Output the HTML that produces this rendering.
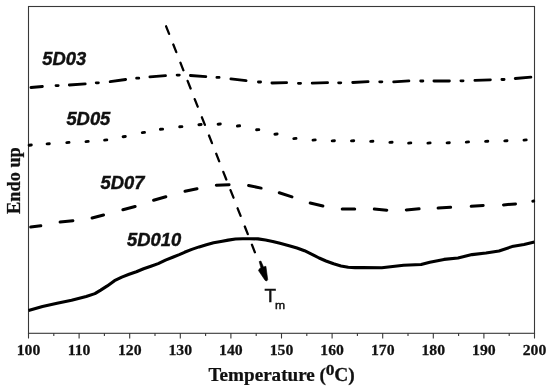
<!DOCTYPE html>
<html><head><meta charset="utf-8"><title>DSC curves</title>
<style>html,body{margin:0;padding:0;background:#fff}svg{display:block}</style></head>
<body>
<svg width="550" height="391" viewBox="0 0 550 391">
<rect width="550" height="391" fill="#fff"/>
<rect x="28.5" y="6.5" width="506" height="326.8" fill="none" stroke="#383838" stroke-width="1.1"/>
<path d="M28.5 333v5.5 M53.8 333v3 M79.1 333v5.5 M104.4 333v3 M129.7 333v5.5 M155.0 333v3 M180.3 333v5.5 M205.6 333v3 M230.9 333v5.5 M256.2 333v3 M281.5 333v5.5 M306.8 333v3 M332.1 333v5.5 M357.4 333v3 M382.7 333v5.5 M408.0 333v3 M433.3 333v5.5 M458.6 333v3 M483.9 333v5.5 M509.2 333v3 M534.5 333v5.5" stroke="#383838" stroke-width="1.1" fill="none"/>
<g font-family="'Liberation Serif',serif" font-weight="bold" font-size="15" text-anchor="middle" fill="#111" stroke="#111" stroke-width="0.25">
<text transform="translate(28.5,355) scale(1.05,1)">100</text>
<text transform="translate(79.1,355) scale(1.05,1)">110</text>
<text transform="translate(129.7,355) scale(1.05,1)">120</text>
<text transform="translate(180.3,355) scale(1.05,1)">130</text>
<text transform="translate(230.9,355) scale(1.05,1)">140</text>
<text transform="translate(281.5,355) scale(1.05,1)">150</text>
<text transform="translate(332.1,355) scale(1.05,1)">160</text>
<text transform="translate(382.7,355) scale(1.05,1)">170</text>
<text transform="translate(433.3,355) scale(1.05,1)">180</text>
<text transform="translate(483.9,355) scale(1.05,1)">190</text>
<text transform="translate(534.5,355) scale(1.05,1)">200</text>
</g>
<g font-family="'Liberation Serif',serif" font-weight="bold" font-size="18.5" fill="#111" stroke="#111" stroke-width="0.25">
<text transform="translate(326,381.2) scale(1.035,1)" text-anchor="end">Temperature (</text>
<text transform="translate(330.1,375) scale(1.25,1)" text-anchor="middle" font-size="14">0</text>
<text transform="translate(334.3,381.2) scale(1.05,1)">C)</text>
</g>
<text transform="translate(20.3,180.6) rotate(-90) scale(1.02,1)" font-family="'Liberation Serif',serif" font-weight="bold" font-size="18" text-anchor="middle" fill="#111" stroke="#111" stroke-width="0.25">Endo up</text>
<polyline points="28.5,310.5 42.5,306.4 57.1,303.2 71.6,300.3 86.2,296.5 94.9,293.6 100.7,290.1 107.3,285.9 114.5,280.7 121.8,277.1 129.1,274.2 136.4,271.7 143.6,268.8 150.9,266.2 158.2,263.6 165.5,260.1 172.7,257.2 179.3,254.6 184.5,252.3 191.8,249.4 199.1,246.9 206.4,244.7 213.6,242.8 220.9,241.4 228.2,240.1 235.5,239 242.7,238.7 250,238.7 258,238.9 265.5,240 272.7,241.4 280,243.3 290,245.9 297,248 304.5,250.7 312,254.3 319.1,258 326,261 333.6,263.8 341,265.9 348.2,267.3 355,267.6 362.7,267.6 381.8,267.7 394.9,266.3 403.6,265.3 421.1,264.5 429.8,262.3 444,259.4 458,258 472,254.6 486,253 499,251 512,246.6 524,244.4 534.4,242" fill="none" stroke="#000" stroke-width="3.1" stroke-linejoin="round"/>
<path d="M30.7 227.0L40.8 225.8 M60.1 222.1L72.9 220.7 M92.1 218.0L103.5 215.0 M122.9 209.8L135.1 206.5 M153.6 200.3L165.8 196.7 M185.0 191.2L197.0 188.8 M216.3 185.3L229.1 184.7 M248.6 185.5L261.1 188.1 M279.3 192.8L292.0 196.9 M310.2 203.0L322.9 206.0 M342.2 209.0L354.7 209.0 M374.3 209.1L386.8 210.2 M406.3 209.9L419.1 208.8 M438.1 208.1L450.6 207.3 M471.2 206.3L483.2 205.5 M503.5 204.9L515.5 203.9 M533.7 201.1L532.8 201.2" stroke="#000" stroke-width="3.0" stroke-linecap="round" fill="none"/>
<path d="M29.1 145.2L31.3 145.0 M47.1 143.9L49.3 143.7 M66.8 142.6L69.0 142.4 M86.0 141.6L88.2 141.4 M104.6 140.1L106.8 139.9 M123.1 136.7L125.3 136.5 M142.3 132.6L144.5 132.4 M160.4 129.3L162.6 129.1 M179.7 126.8L181.9 126.6 M198.9 124.7L201.1 124.5 M218.1 124.2L220.3 124.0 M237.4 126.0L239.6 125.8 M256.6 129.8L258.8 129.6 M274.9 134.2L277.1 134.0 M293.8 138.6L296.0 138.4 M313.0 140.1L315.2 139.9 M332.2 140.9L334.4 140.7 M351.5 140.9L353.7 140.7 M370.7 141.4L372.9 141.2 M389.9 142.4L392.1 142.2 M408.6 143.1L410.8 142.9 M427.9 143.1L430.1 142.9 M447.1 142.9L449.3 142.7 M466.3 142.1L468.5 141.9 M485.6 141.4L487.8 141.2 M504.8 140.9L507.0 140.7 M524.0 140.1L526.2 139.9" stroke="#000" stroke-width="2.9" stroke-linecap="round" fill="none"/>
<path d="M30.9 87.5L42.4 86.5 M69.3 85.0L85.2 83.9 M110.2 81.7L125.6 79.5 M149.9 76.8L165.5 75.7 M190.4 75.5L205.8 76.6 M230.9 78.9L246.1 80.6 M271.9 83.0L286.6 82.6 M312.2 83.2L327.6 82.7 M352.7 82.5L368.1 81.6 M393.7 81.9L408.9 80.9 M433.9 81.0L449.4 81.0 M474.9 80.4L490.4 79.8 M515.2 78.5L530.9 77.1 M56.0 85.6L58.2 85.6 M96.2 82.8L98.4 82.8 M136.6 78.2L138.8 78.2 M177.1 75.1L179.3 75.1 M216.9 77.4L219.1 77.4 M258.4 82.0L260.6 82.0 M298.4 83.3L300.6 83.3 M338.6 82.8L340.8 82.8 M379.7 81.8L381.9 81.8 M420.7 81.0L422.9 81.0 M460.9 80.8L463.1 80.8 M501.9 79.5L504.1 79.5" stroke="#000" stroke-width="2.8" stroke-linecap="round" fill="none"/>
<path d="M166.1 26.3L169.1 33.9 M173.3 44.5L176.3 52.1 M180.4 62.7L183.4 70.3 M187.6 80.9L190.6 88.5 M194.7 99.1L197.7 106.7 M201.9 117.3L204.9 124.9 M209.0 135.5L212.0 143.1 M216.2 153.7L219.2 161.3 M223.3 171.9L226.3 179.5 M230.5 190.1L233.5 197.7 M237.6 208.3L240.6 215.9 M244.8 226.5L247.8 234.1 M251.9 244.7L254.9 252.3" stroke="#000" stroke-width="2.3" stroke-linecap="round" fill="none"/>
<path d="M259.2 261.6L260.9 261L263.5 266.9L265.9 266.3L267.7 279.6L266.7 281L265.2 280.4L258.5 270.6L259.4 268.8L260.9 267.8Z" fill="#000" stroke="#000" stroke-width="0.6" stroke-linejoin="round"/>
<g font-family="'Liberation Sans',sans-serif" font-weight="bold" font-style="italic" font-size="17.5" fill="#111" stroke="#111" stroke-width="0.4">
<text transform="translate(42.3,64.6) scale(1.05,1)">5D03</text>
<text transform="translate(66.4,125.1) scale(1.05,1)">5D05</text>
<text transform="translate(100.5,189) scale(1.05,1)">5D07</text>
<text transform="translate(127.1,245.5) scale(1.05,1)">5D010</text>
</g>
<text transform="translate(264.6,301.5) scale(1.05,1)" font-family="'Liberation Sans',sans-serif" font-size="18" fill="#111" stroke="#111" stroke-width="0.45">T<tspan font-size="11.5" dy="7.1" dx="-1">m</tspan></text>
</svg>
</body></html>
